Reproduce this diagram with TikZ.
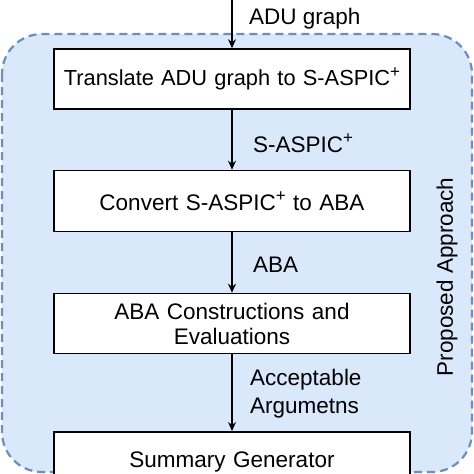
\documentclass[tikz,border=0pt]{standalone}
\usepackage{fontspec}
\setmainfont{Liberation Sans}
\usetikzlibrary{arrows.meta}
\definecolor{grpfill}{HTML}{DAE8FC}
\definecolor{grpline}{HTML}{6C8EBF}
\newcommand{\plussup}{\raisebox{0.75ex}{\fontsize{17}{17}\selectfont +}}
\tikzset{
  stepbox/.style={draw=black, fill=white, line width=1.6pt, minimum width=356pt, text width=356pt, align=center, inner sep=0pt, font=\fontsize{22.5}{25}\selectfont},
  flow/.style={draw=black, line width=1.2pt, -{Stealth[length=9pt,width=8pt]}},
  lbl/.style={anchor=west, inner sep=0pt, align=left, font=\fontsize{22.5}{28}\selectfont},
}
\begin{document}
\begin{tikzpicture}[x=1pt,y=-1pt]
\useasboundingbox (0,0) rectangle (474,474);
\path[fill=grpfill, draw=grpline, line width=2.2pt, dash pattern=on 8pt off 5pt, rounded corners=40pt] (2,34) rectangle (472,472);
\node[rotate=90, font=\fontsize{22.5}{26}\selectfont] (grp) at (447,277) {Proposed Approach};
\node[stepbox, minimum height=60pt, font=\fontsize{21.8}{25}\selectfont] (b1) at (232,79) {Translate ADU graph to S-ASPIC\plussup};
\node[stepbox, minimum height=61pt] (b2) at (232,201) {Convert S-ASPIC\plussup{} to ABA};
\node[stepbox, minimum height=60pt] (b3) at (232,323.5) {ABA Constructions and\\Evaluations};
\node[stepbox, minimum height=60pt, anchor=north] (b4) at (232,431) {Summary Generator\\[30pt]};
\coordinate (top) at (232,-2);
\draw[flow] (top) -- (b1.north);
\draw[flow] (b1.south) -- (b2.north);
\draw[flow] (b2.south) -- (b3.north);
\draw[flow] (b3.south) -- (b4.north);
\node[lbl] (l1) at (249,19) {ADU graph};
\node[lbl] (l2) at (253,143) {S-ASPIC\plussup};
\node[lbl] (l3) at (253,265) {ABA};
\node[lbl] (l4) at (250,394) {Acceptable\\Argumetns};
\end{tikzpicture}
\end{document}
